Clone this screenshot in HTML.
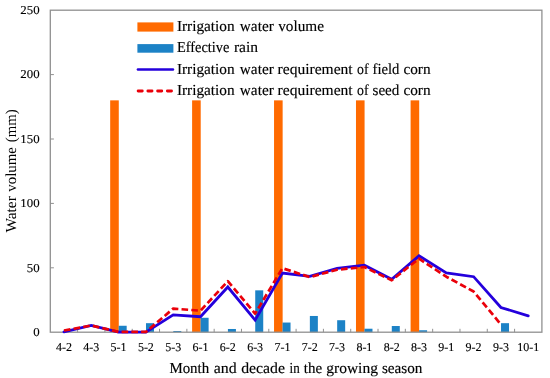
<!DOCTYPE html><html><head><meta charset="utf-8"><title>Chart</title><style>html,body{margin:0;padding:0;background:#fff}svg{display:block}text{font-family:"Liberation Serif",serif;fill:#000;text-rendering:geometricPrecision}.p{font-size:15.3px;stroke:#000;stroke-width:.15px}.v{stroke:none}.t{font-size:12px;stroke:#000;stroke-width:.12px}</style></head><body>
<svg width="550" height="378" viewBox="0 0 550 378">
<rect width="550" height="378" fill="#fff"/>
<rect x="110.18" y="100.36" width="8.6" height="231.84" fill="#FF6A00"/>
<rect x="192.11" y="100.36" width="8.6" height="231.84" fill="#FF6A00"/>
<rect x="274.04" y="100.36" width="8.6" height="231.84" fill="#FF6A00"/>
<rect x="355.98" y="100.36" width="8.6" height="231.84" fill="#FF6A00"/>
<rect x="410.60" y="100.36" width="8.6" height="231.84" fill="#FF6A00"/>
<rect x="118.68" y="325.76" width="8.0" height="6.44" fill="#1C82C6"/>
<rect x="145.99" y="323.18" width="8.0" height="9.02" fill="#1C82C6"/>
<rect x="173.30" y="331.04" width="8.0" height="1.16" fill="#1C82C6"/>
<rect x="200.61" y="317.77" width="8.0" height="14.43" fill="#1C82C6"/>
<rect x="227.92" y="328.98" width="8.0" height="3.22" fill="#1C82C6"/>
<rect x="255.23" y="290.34" width="8.0" height="41.86" fill="#1C82C6"/>
<rect x="282.54" y="322.54" width="8.0" height="9.66" fill="#1C82C6"/>
<rect x="309.86" y="315.97" width="8.0" height="16.23" fill="#1C82C6"/>
<rect x="337.17" y="320.22" width="8.0" height="11.98" fill="#1C82C6"/>
<rect x="364.48" y="328.72" width="8.0" height="3.48" fill="#1C82C6"/>
<rect x="391.79" y="326.02" width="8.0" height="6.18" fill="#1C82C6"/>
<rect x="419.10" y="330.27" width="8.0" height="1.93" fill="#1C82C6"/>
<rect x="501.03" y="323.18" width="8.0" height="9.02" fill="#1C82C6"/>
<rect x="50.3" y="10.2" width="491.60" height="322.00" fill="none" stroke="#909090" stroke-width="1.3"/>
<path d="M77.61 332.2v-3.4M104.92 332.2v-3.4M132.23 332.2v-3.4M159.54 332.2v-3.4M186.86 332.2v-3.4M214.17 332.2v-3.4M241.48 332.2v-3.4M268.79 332.2v-3.4M296.10 332.2v-3.4M323.41 332.2v-3.4M350.72 332.2v-3.4M378.03 332.2v-3.4M405.34 332.2v-3.4M432.66 332.2v-3.4M459.97 332.2v-3.4M487.28 332.2v-3.4M514.59 332.2v-3.4M50.3 267.80h3.6M50.3 203.40h3.6M50.3 139.00h3.6M50.3 74.60h3.6" stroke="#909090" stroke-width="1" fill="none"/>
<polyline points="63.96,331.81 91.27,325.50 118.58,332.20 145.89,332.20 173.20,314.94 200.51,316.74 227.82,286.99 255.13,320.09 282.44,273.08 309.76,276.30 337.07,268.44 364.38,265.22 391.69,279.26 419.00,255.82 446.31,272.82 473.62,276.69 500.93,307.47 528.24,315.84" fill="none" stroke="#2400DC" stroke-width="2.8" stroke-linejoin="miter" stroke-linecap="round"/>
<polyline points="63.96,330.53 91.27,325.50 118.58,331.94 145.89,331.94 173.20,308.63 200.51,310.69 227.82,281.20 255.13,313.65 282.44,268.19 309.76,277.07 337.07,269.73 364.38,267.03 391.69,280.29 419.00,258.66 446.31,276.69 473.62,291.50 500.93,324.47" fill="none" stroke="#EA000A" stroke-width="2.7" stroke-dasharray="6.6 3.2" stroke-linejoin="round"/>
<text class="t" x="33.18" y="336.00" textLength="6.42" lengthAdjust="spacingAndGlyphs">0</text>
<text class="t" x="26.76" y="271.60" textLength="12.84" lengthAdjust="spacingAndGlyphs">50</text>
<text class="t" x="20.34" y="207.20" textLength="19.26" lengthAdjust="spacingAndGlyphs">100</text>
<text class="t" x="20.34" y="142.80" textLength="19.26" lengthAdjust="spacingAndGlyphs">150</text>
<text class="t" x="20.34" y="78.40" textLength="19.26" lengthAdjust="spacingAndGlyphs">200</text>
<text class="t" x="20.34" y="14.00" textLength="19.26" lengthAdjust="spacingAndGlyphs">250</text>
<text class="t" x="63.96" y="351.3" text-anchor="middle">4-2</text>
<text class="t" x="91.27" y="351.3" text-anchor="middle">4-3</text>
<text class="t" x="118.58" y="351.3" text-anchor="middle">5-1</text>
<text class="t" x="145.89" y="351.3" text-anchor="middle">5-2</text>
<text class="t" x="173.20" y="351.3" text-anchor="middle">5-3</text>
<text class="t" x="200.51" y="351.3" text-anchor="middle">6-1</text>
<text class="t" x="227.82" y="351.3" text-anchor="middle">6-2</text>
<text class="t" x="255.13" y="351.3" text-anchor="middle">6-3</text>
<text class="t" x="282.44" y="351.3" text-anchor="middle">7-1</text>
<text class="t" x="309.76" y="351.3" text-anchor="middle">7-2</text>
<text class="t" x="337.07" y="351.3" text-anchor="middle">7-3</text>
<text class="t" x="364.38" y="351.3" text-anchor="middle">8-1</text>
<text class="t" x="391.69" y="351.3" text-anchor="middle">8-2</text>
<text class="t" x="419.00" y="351.3" text-anchor="middle">8-3</text>
<text class="t" x="446.31" y="351.3" text-anchor="middle">9-1</text>
<text class="t" x="473.62" y="351.3" text-anchor="middle">9-2</text>
<text class="t" x="500.93" y="351.3" text-anchor="middle">9-3</text>
<text class="t" x="528.24" y="351.3" text-anchor="middle">10-1</text>
<text class="p" y="372.6"><tspan x="169.4" textLength="39.8" lengthAdjust="spacingAndGlyphs">Month</tspan> <tspan x="213.7" textLength="22.9" lengthAdjust="spacingAndGlyphs">and</tspan> <tspan x="241.2" textLength="43.8" lengthAdjust="spacingAndGlyphs">decade</tspan> <tspan x="289.6" textLength="10.1" lengthAdjust="spacingAndGlyphs">in</tspan> <tspan x="303.8" textLength="18.3" lengthAdjust="spacingAndGlyphs">the</tspan> <tspan x="326.2" textLength="51.8" lengthAdjust="spacingAndGlyphs">growing</tspan> <tspan x="381.9" textLength="40.6" lengthAdjust="spacingAndGlyphs">season</tspan></text>
<text class="p v" transform="translate(16.4 232.6) rotate(-90)"><tspan x="0" textLength="36.4" lengthAdjust="spacingAndGlyphs">Water</tspan> <tspan x="40.9" textLength="44.7" lengthAdjust="spacingAndGlyphs">volume</tspan> <tspan x="90.4" textLength="32.8" lengthAdjust="spacingAndGlyphs">(mm)</tspan></text>
<rect x="137.4" y="22.4" width="36" height="9.2" fill="#FF6A00"/>
<rect x="137.4" y="44.1" width="36" height="8.6" fill="#1C82C6"/>
<line x1="137.9" x2="173" y1="69.5" y2="69.5" stroke="#2400DC" stroke-width="2.4" stroke-linecap="round"/>
<line x1="138.1" x2="173" y1="91" y2="91" stroke="#EA000A" stroke-width="2.8" stroke-dasharray="4.2 5.55" stroke-linecap="round"/>
<text class="p" y="31.2"><tspan x="176.9" textLength="57.8" lengthAdjust="spacingAndGlyphs">Irrigation</tspan> <tspan x="239.8" textLength="34.0" lengthAdjust="spacingAndGlyphs">water</tspan> <tspan x="278.2" textLength="45.8" lengthAdjust="spacingAndGlyphs">volume</tspan></text>
<text class="p" y="52.3"><tspan x="176.9" textLength="52.5" lengthAdjust="spacingAndGlyphs">Effective</tspan> <tspan x="233.9" textLength="24.2" lengthAdjust="spacingAndGlyphs">rain</tspan></text>
<text class="p" y="73.8"><tspan x="176.9" textLength="57.8" lengthAdjust="spacingAndGlyphs">Irrigation</tspan> <tspan x="239.8" textLength="34.0" lengthAdjust="spacingAndGlyphs">water</tspan> <tspan x="277.6" textLength="75.1" lengthAdjust="spacingAndGlyphs">requirement</tspan> <tspan x="357.1" textLength="11.5" lengthAdjust="spacingAndGlyphs">of</tspan> <tspan x="372.5" textLength="26.9" lengthAdjust="spacingAndGlyphs">field</tspan> <tspan x="403.4" textLength="27.2" lengthAdjust="spacingAndGlyphs">corn</tspan></text>
<text class="p" y="94.9"><tspan x="176.9" textLength="57.8" lengthAdjust="spacingAndGlyphs">Irrigation</tspan> <tspan x="239.8" textLength="34.0" lengthAdjust="spacingAndGlyphs">water</tspan> <tspan x="277.6" textLength="75.1" lengthAdjust="spacingAndGlyphs">requirement</tspan> <tspan x="357.1" textLength="11.5" lengthAdjust="spacingAndGlyphs">of</tspan> <tspan x="372.5" textLength="26.9" lengthAdjust="spacingAndGlyphs">seed</tspan> <tspan x="403.4" textLength="27.2" lengthAdjust="spacingAndGlyphs">corn</tspan></text>
</svg></body></html>
